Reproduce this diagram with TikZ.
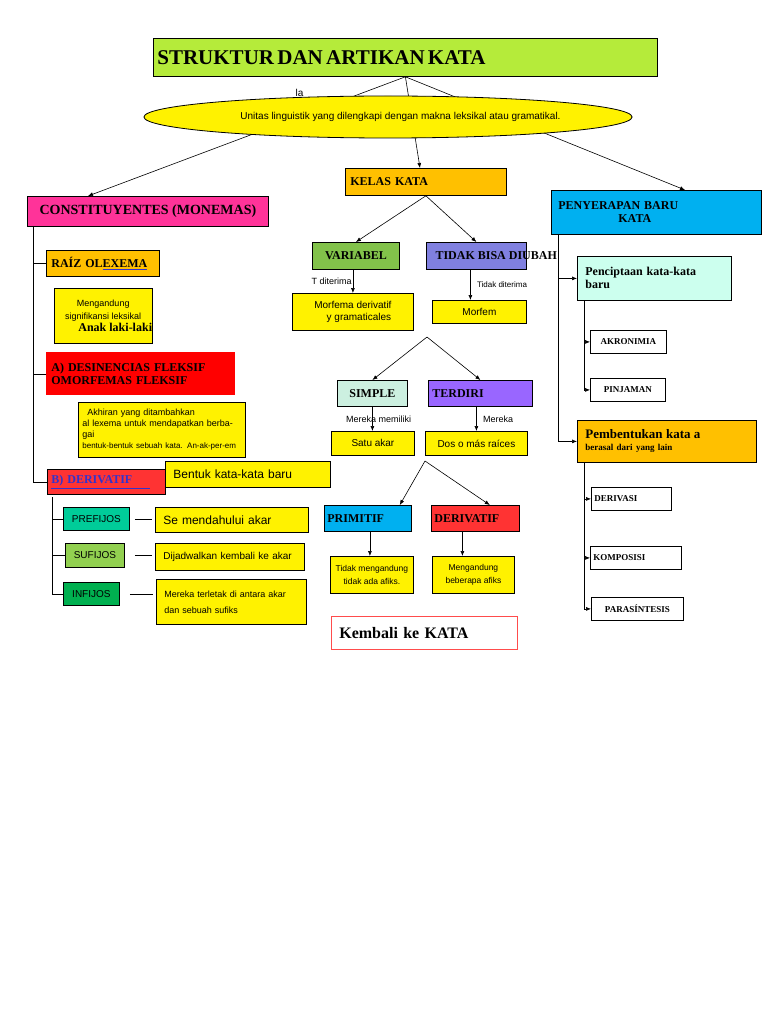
\documentclass[tikz,border=0pt]{standalone}
\usepackage{fontspec}
\setmainfont{Liberation Serif}
\setsansfont{Liberation Sans}
\usetikzlibrary{arrows.meta,shapes.geometric}
\definecolor{titlegreen}{HTML}{B5EB3A}
\definecolor{orng}{HTML}{FFC000}
\definecolor{pinkm}{HTML}{FF3399}
\definecolor{skyb}{HTML}{00B0F0}
\definecolor{vargreen}{HTML}{82C24A}
\definecolor{lavend}{HTML}{8080E0}
\definecolor{mint}{HTML}{CCF0E0}
\definecolor{purp}{HTML}{9966FF}
\definecolor{redd}{HTML}{FF3333}
\definecolor{teal}{HTML}{00CC99}
\definecolor{sgreen}{HTML}{92D050}
\definecolor{dgreen}{HTML}{00B050}
\definecolor{lcyan}{HTML}{CCFFEE}
\definecolor{linkblue}{HTML}{3333CC}
\tikzset{
	box/.style = {draw, line width=0.8pt, anchor=north west, inner sep=0pt},
	head/.style = {font=\fontsize{12}{13}\selectfont\bfseries},
	txt/.style = {font=\sffamily\fontsize{10}{12}\selectfont},
	arr/.style = {-{Latex[length=5pt,width=4pt]}, line width=0.6pt},
	ln/.style = {line width=0.8pt}
}
\begin{document}
\begin{tikzpicture}[x=1pt,y=-1pt]
	\useasboundingbox (0,0) rectangle (768,1024);
	% title and top level
	\node[box, fill=titlegreen, minimum width=504pt, minimum height=38pt, align=left, text width=496pt, inner xsep=4pt] (title) at (153,38) {\fontsize{21}{22}\selectfont\bfseries STRUKTUR DAN ARTIKAN KATA};
	\node[box, fill=pinkm, minimum width=241pt, minimum height=30pt, head, font=\fontsize{14}{15}\selectfont\bfseries] (const) at (27,196) {CONSTITUYENTES (MONEMAS)};
	\node[box, fill=orng, minimum width=161pt, minimum height=27pt, head, align=left, text width=151pt, inner xsep=5pt] (kelas) at (345,168) {KELAS KATA};
	\node[box, fill=skyb, minimum width=210pt, minimum height=44pt, head, align=left, text width=196pt, inner xsep=7pt] (peny) at (551,190) {PENYERAPAN BARU\\\hspace*{60pt}KATA};
	\draw[arr] (title.south) -- ([xshift=61pt]const.north west);
	\draw[arr] (title.south) -- ([xshift=75pt]kelas.north west);
	\draw[arr] (title.south) -- ([xshift=134pt]peny.north west);
	\node[ellipse, draw, fill=yellow, line width=0.8pt, minimum width=404pt, minimum height=42pt, inner sep=0pt, txt] (unitas) at (388,117) {\hspace*{25pt}Unitas linguistik yang dilengkapi dengan makna leksikal atau gramatikal.};
	\node[txt, anchor=west] (la) at (292,93) {la};
	% kelas kata
	\node[box, fill=vargreen, minimum width=87pt, minimum height=27pt, head] (var) at (312,242) {VARIABEL};
	\node[box, fill=lavend, minimum width=100pt, minimum height=27pt] (tidak) at (426,242) {};
	\node[head, anchor=west] (tidaktxt) at (432,255.5) {TIDAK BISA DIUBAH};
	\draw[arr] (kelas.south) -- (var.north);
	\draw[arr] (kelas.south) -- (tidak.north);
	\node[box, fill=yellow, minimum width=121pt, minimum height=37pt, txt, align=center] (morfd) at (292,293) {Morfema derivatif\\\hspace*{12pt}y gramaticales};
	\node[box, fill=yellow, minimum width=94pt, minimum height=23pt, txt] (morfem) at (432,300) {Morfem};
	\draw[arr] (var.south -| morfd.north) -- (morfd.north) node[midway, left, txt, font=\sffamily\fontsize{9}{10}\selectfont, inner xsep=1pt] {T diterima};
	\draw[arr] (tidak.south -| morfem.north) ++(-9pt,0) coordinate (tk) -- (tk |- morfem.north) node[midway, right, txt, font=\sffamily\fontsize{8}{10}\selectfont, xshift=3pt] {Tidak diterima};
	\coordinate (split1) at (427,337);
	\node[box, fill=mint, minimum width=70pt, minimum height=26pt, head] (simple) at (337,380) {SIMPLE};
	\node[box, fill=purp, minimum width=104pt, minimum height=26pt, head, align=left, text width=96pt, inner xsep=4pt] (terdiri) at (428,380) {TERDIRI};
	\draw[arr] (split1) -- (simple.north);
	\draw[arr] (split1) -- (terdiri.north);
	\node[box, fill=yellow, minimum width=83pt, minimum height=24pt, txt] (satu) at (331,431) {Satu akar};
	\node[box, fill=yellow, minimum width=102pt, minimum height=24pt, txt] (dos) at (425,431) {Dos o más raíces};
	\draw[arr] (simple.south) -- (simple.south |- satu.north) node[midway, right, txt, font=\sffamily\fontsize{9}{10}\selectfont, xshift=-30pt] {Mereka memiliki};
	\draw[arr] ([xshift=-4pt]terdiri.south) coordinate (te) -- (te |- dos.north) node[midway, right, txt, font=\sffamily\fontsize{9}{10}\selectfont, xshift=3pt] {Mereka};
	\coordinate (split2) at (425,461);
	\node[box, fill=skyb, minimum width=87pt, minimum height=26pt, head, align=left, text width=81pt, inner xsep=3pt] (prim) at (324,505) {PRIMITIF};
	\node[box, fill=redd, minimum width=88pt, minimum height=26pt, head, align=left, text width=82pt, inner xsep=3pt] (deriv) at (431,505) {DERIVATIF};
	\draw[arr] (split2) -- ([xshift=-12pt]prim.north east);
	\draw[arr] (split2) -- ([xshift=-30pt]deriv.north east);
	\node[box, fill=yellow, minimum width=83pt, minimum height=37pt, txt, font=\sffamily\fontsize{8.5}{13}\selectfont, align=center] (tidakm) at (330,556) {Tidak mengandung\\tidak ada afiks.};
	\node[box, fill=yellow, minimum width=82pt, minimum height=37pt, txt, font=\sffamily\fontsize{8.5}{13}\selectfont, align=center] (meng) at (432,556) {Mengandung\\beberapa afiks};
	\draw[arr] (prim.south -| tidakm.north) ++(-2pt,0) coordinate (pr) -- (pr |- tidakm.north);
	\draw[arr] ([xshift=-13pt]deriv.south) coordinate (dr) -- (dr |- meng.north);
	\node[box, draw=red!70, line width=0.6pt, minimum width=178pt, minimum height=33pt, align=left, text width=170pt, inner xsep=8pt, font=\fontsize{16}{17}\selectfont\bfseries] (kembali) at (331,616) {Kembali ke KATA};
	% constituyentes branch
	\node[box, fill=orng, minimum width=113pt, minimum height=26pt, head, align=left, text width=103pt, inner xsep=5pt] (raiz) at (46,250) {RAÍZ OL{\color{linkblue}\underline{\color{black}EXEMA}}};
	\node[box, fill=yellow, minimum width=94pt, minimum height=55pt, txt, font=\sffamily\fontsize{9}{13}\selectfont, align=center] (mengsig) at (54,288) {Mengandung\\signifikansi leksikal\\[-1pt]\hspace*{24pt}{\rmfamily\bfseries\fontsize{12}{12}\selectfont Anak laki-laki}};
	\node[box, draw=none, fill=red, minimum width=187pt, minimum height=43pt, head, align=left, text width=179pt, inner xsep=5pt] (desin) at (46,352) {A) DESINENCIAS FLEKSIF\\OMORFEMAS FLEKSIF};
	\node[box, fill=yellow, minimum width=165pt, minimum height=55pt, txt, font=\sffamily\fontsize{9}{11}\selectfont, align=left, text width=159pt, inner xsep=4pt] (akhiran) at (78,402) {\hspace*{5pt}Akhiran yang ditambahkan\\al lexema untuk mendapatkan berbagai\\{\fontsize{8}{10}\selectfont bentuk-bentuk sebuah kata. An-ak-per-em}};
	\node[box, fill=redd, minimum width=118pt, minimum height=25pt, head, align=left, text width=110pt, inner xsep=4pt] (bder) at (47,469) {\color{linkblue}\underline{B) DERIVATIF\hspace*{18pt}}};
	\node[box, fill=yellow, minimum width=157pt, minimum height=26pt, txt, font=\sffamily\fontsize{12}{13}\selectfont, align=left, text width=149pt, inner xsep=8pt] (bentuk) at (165,461) {Bentuk kata-kata baru};
	\coordinate (ltrunk) at (33,226);
	\draw[ln] (ltrunk) -- (ltrunk |- bder.west) -- (bder.west);
	\draw[ln] (ltrunk |- raiz.west) -- (raiz.west);
	\draw[ln] (ltrunk |- desin.west) -- (desin.west);
	% affixes
	\node[box, fill=teal, minimum width=66pt, minimum height=23pt, txt] (pref) at (63,507) {PREFIJOS};
	\node[box, fill=sgreen, minimum width=59pt, minimum height=24pt, txt] (suf) at (65,543) {SUFIJOS};
	\node[box, fill=dgreen, minimum width=56pt, minimum height=23pt, txt] (inf) at (63,582) {INFIJOS};
	\coordinate (atrunk) at (52,497);
	\draw[ln] (atrunk) -- (atrunk |- inf.west) -- (inf.west);
	\draw[ln] (atrunk |- pref.west) -- (pref.west);
	\draw[ln] (atrunk |- suf.west) -- (suf.west);
	\node[box, fill=yellow, minimum width=145pt, minimum height=25pt, txt, font=\sffamily\fontsize{12}{13}\selectfont, align=left, text width=137pt, inner xsep=8pt] (sedah) at (155,507) {Se mendahului akar};
	\node[box, fill=yellow, minimum width=139pt, minimum height=27pt, txt, align=left, text width=133pt, inner xsep=8pt] (dijad) at (155,543) {Dijadwalkan kembali ke akar};
	\node[box, fill=yellow, minimum width=142pt, minimum height=45pt, txt, font=\sffamily\fontsize{9}{16}\selectfont, align=left, text width=134pt, inner xsep=8pt] (terlet) at (156,579) {Mereka terletak di antara akar\\dan sebuah sufiks};
	\draw[ln] ([xshift=5pt]pref.east) -- ([xshift=-3pt]pref.east -| sedah.west);
	\draw[ln] ([xshift=10pt]suf.east) -- ([xshift=-3pt]suf.east -| dijad.west);
	\draw[ln] ([xshift=10pt]inf.east) -- ([xshift=-3pt]inf.east -| terlet.west);
	% penyerapan branch
	\node[box, fill=lcyan, minimum width=146pt, minimum height=44pt, head, align=left, text width=138pt, inner xsep=8pt] (pencip) at (577,256) {Penciptaan kata-kata\\baru};
	\node[box, fill=orng, minimum width=171pt, minimum height=42pt, align=left, text width=163pt, inner xsep=8pt] (pemb) at (577,420) {{\bfseries\fontsize{13}{14}\selectfont Pembentukan kata a}\\{\bfseries\fontsize{9}{11}\selectfont berasal dari yang lain}};
	\coordinate (rtrunk) at (558,234);
	\draw[ln] (rtrunk) -- (rtrunk |- pemb.west);
	\draw[arr] (rtrunk |- pencip.west) -- (pencip.west);
	\draw[arr] (rtrunk |- pemb.west) -- (pemb.west);
	\tikzset{small/.style = {box, fill=white, minimum height=23pt, font=\fontsize{9}{10}\selectfont\bfseries}}
	\node[small, minimum width=76pt] (akro) at (590,330) {AKRONIMIA};
	\node[small, minimum width=75pt] (pinj) at (590,378) {PINJAMAN};
	\node[small, minimum width=80pt, align=left, text width=74pt, inner xsep=3pt] (deri) at (591,487) {DERIVASI};
	\node[small, minimum width=91pt, align=left, text width=85pt, inner xsep=3pt] (komp) at (590,546) {KOMPOSISI};
	\node[small, minimum width=92pt] (paras) at (591,597) {PARASÍNTESIS};
	\coordinate (r1) at (584,300);
	\coordinate (r2) at (584,462);
	\draw[ln] (r1) -- (r1 |- pinj.west);
	\draw[ln] (r2) -- (r2 |- paras.west);
	\foreach \n in {akro,pinj}{
		\draw[arr] (r1 |- \n.west) -- (\n.west);
	}
	\foreach \n in {deri,komp,paras}{
		\draw[arr] (r2 |- \n.west) -- (\n.west);
	}
\end{tikzpicture}
\end{document}
